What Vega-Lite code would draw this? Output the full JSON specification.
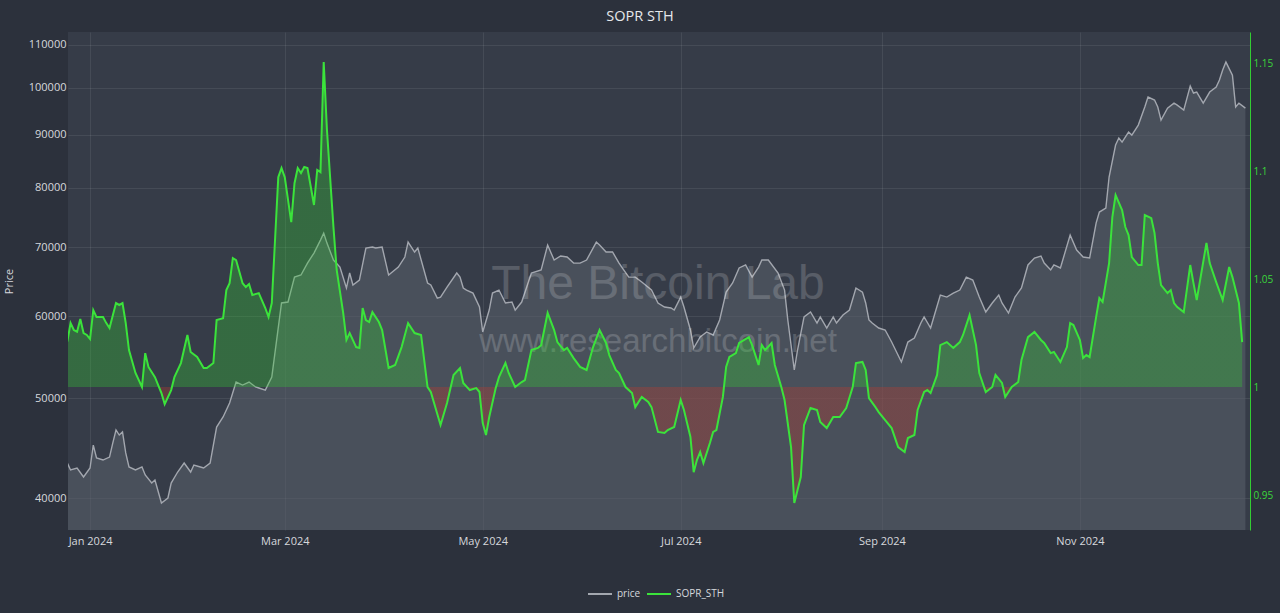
{
  "$schema": "https://vega.github.io/schema/vega-lite/v6.json",
  "autosize": {"type": "none"},
  "width": 1182,
  "height": 498,
  "padding": {"left": 68, "top": 32, "right": 30, "bottom": 83},
  "background": "#2c313c",
  "title": {"text": "SOPR STH", "fontSize": 14.5, "fontWeight": "normal", "color": "#e6e8eb", "font": "Open Sans", "anchor": "middle", "dx": -19, "offset": 8},
  "datasets": {
    "price": [
      {"date": "2023-12-25", "price": 43250}, {"date": "2023-12-26", "price": 42580}, {"date": "2023-12-28", "price": 42770}, {"date": "2023-12-30", "price": 41920},
      {"date": "2024-01-01", "price": 42770}, {"date": "2024-01-02", "price": 45020}, {"date": "2024-01-03", "price": 43740}, {"date": "2024-01-05", "price": 43540},
      {"date": "2024-01-07", "price": 43830}, {"date": "2024-01-08", "price": 45220}, {"date": "2024-01-09", "price": 46560}, {"date": "2024-01-10", "price": 46040},
      {"date": "2024-01-11", "price": 46350}, {"date": "2024-01-12", "price": 44230}, {"date": "2024-01-13", "price": 42870}, {"date": "2024-01-15", "price": 42580},
      {"date": "2024-01-17", "price": 42870}, {"date": "2024-01-18", "price": 42110}, {"date": "2024-01-20", "price": 41360}, {"date": "2024-01-21", "price": 41640},
      {"date": "2024-01-23", "price": 39560}, {"date": "2024-01-25", "price": 40000}, {"date": "2024-01-26", "price": 41360}, {"date": "2024-01-28", "price": 42390},
      {"date": "2024-01-30", "price": 43250}, {"date": "2024-02-01", "price": 42390}, {"date": "2024-02-02", "price": 43060}, {"date": "2024-02-04", "price": 42870},
      {"date": "2024-02-05", "price": 42770}, {"date": "2024-02-07", "price": 43250}, {"date": "2024-02-09", "price": 46870}, {"date": "2024-02-11", "price": 47930},
      {"date": "2024-02-13", "price": 49450}, {"date": "2024-02-15", "price": 51820}, {"date": "2024-02-17", "price": 51470}, {"date": "2024-02-19", "price": 51820},
      {"date": "2024-02-21", "price": 51250}, {"date": "2024-02-22", "price": 51130}, {"date": "2024-02-24", "price": 50900}, {"date": "2024-02-26", "price": 52400},
      {"date": "2024-02-29", "price": 61820}, {"date": "2024-03-02", "price": 61950}, {"date": "2024-03-04", "price": 65500}, {"date": "2024-03-06", "price": 65800},
      {"date": "2024-03-08", "price": 67580}, {"date": "2024-03-10", "price": 69110}, {"date": "2024-03-12", "price": 71140}, {"date": "2024-03-13", "price": 72260},
      {"date": "2024-03-14", "price": 70660}, {"date": "2024-03-16", "price": 68040}, {"date": "2024-03-18", "price": 66980}, {"date": "2024-03-20", "price": 63920},
      {"date": "2024-03-21", "price": 66100}, {"date": "2024-03-22", "price": 64350}, {"date": "2024-03-24", "price": 65070}, {"date": "2024-03-26", "price": 69890},
      {"date": "2024-03-28", "price": 70050}, {"date": "2024-03-29", "price": 69890}, {"date": "2024-03-31", "price": 70050}, {"date": "2024-04-02", "price": 65800},
      {"date": "2024-04-05", "price": 66980}, {"date": "2024-04-07", "price": 68500}, {"date": "2024-04-08", "price": 70820}, {"date": "2024-04-10", "price": 69270},
      {"date": "2024-04-11", "price": 69890}, {"date": "2024-04-14", "price": 64640}, {"date": "2024-04-15", "price": 64350}, {"date": "2024-04-17", "price": 62500},
      {"date": "2024-04-18", "price": 62640}, {"date": "2024-04-20", "price": 64060}, {"date": "2024-04-23", "price": 66100}, {"date": "2024-04-24", "price": 65500},
      {"date": "2024-04-25", "price": 63920}, {"date": "2024-04-26", "price": 63630}, {"date": "2024-04-28", "price": 63200}, {"date": "2024-04-30", "price": 61260},
      {"date": "2024-05-01", "price": 57940}, {"date": "2024-05-03", "price": 60850}, {"date": "2024-05-04", "price": 63200}, {"date": "2024-05-06", "price": 63630},
      {"date": "2024-05-08", "price": 61820}, {"date": "2024-05-10", "price": 61950}, {"date": "2024-05-11", "price": 60850}, {"date": "2024-05-13", "price": 61950},
      {"date": "2024-05-16", "price": 66100}, {"date": "2024-05-19", "price": 66550}, {"date": "2024-05-21", "price": 70350}, {"date": "2024-05-23", "price": 68040},
      {"date": "2024-05-25", "price": 68660}, {"date": "2024-05-27", "price": 68500}, {"date": "2024-05-29", "price": 67580}, {"date": "2024-05-31", "price": 67580},
      {"date": "2024-06-02", "price": 68040}, {"date": "2024-06-05", "price": 70820}, {"date": "2024-06-06", "price": 70350}, {"date": "2024-06-08", "price": 69270},
      {"date": "2024-06-10", "price": 69270}, {"date": "2024-06-12", "price": 67580}, {"date": "2024-06-13", "price": 66850}, {"date": "2024-06-15", "price": 65500},
      {"date": "2024-06-17", "price": 65500}, {"date": "2024-06-19", "price": 64790}, {"date": "2024-06-22", "price": 63630}, {"date": "2024-06-24", "price": 61820},
      {"date": "2024-06-26", "price": 61260}, {"date": "2024-06-28", "price": 61130}, {"date": "2024-06-29", "price": 60850}, {"date": "2024-07-01", "price": 62640},
      {"date": "2024-07-02", "price": 61260}, {"date": "2024-07-04", "price": 58200}, {"date": "2024-07-05", "price": 55910}, {"date": "2024-07-07", "price": 57300},
      {"date": "2024-07-09", "price": 57940}, {"date": "2024-07-11", "price": 57560}, {"date": "2024-07-13", "price": 59520}, {"date": "2024-07-15", "price": 63340},
      {"date": "2024-07-17", "price": 64640}, {"date": "2024-07-19", "price": 66850}, {"date": "2024-07-21", "price": 67300}, {"date": "2024-07-23", "price": 65500},
      {"date": "2024-07-25", "price": 66980}, {"date": "2024-07-26", "price": 68040}, {"date": "2024-07-28", "price": 68040}, {"date": "2024-07-31", "price": 66100},
      {"date": "2024-08-02", "price": 63630}, {"date": "2024-08-03", "price": 59520}, {"date": "2024-08-05", "price": 53230}, {"date": "2024-08-06", "price": 55660},
      {"date": "2024-08-08", "price": 59920}, {"date": "2024-08-10", "price": 60590}, {"date": "2024-08-12", "price": 59120}, {"date": "2024-08-13", "price": 59920},
      {"date": "2024-08-15", "price": 58460}, {"date": "2024-08-17", "price": 59920}, {"date": "2024-08-18", "price": 59120}, {"date": "2024-08-20", "price": 60180},
      {"date": "2024-08-22", "price": 60850}, {"date": "2024-08-24", "price": 63920}, {"date": "2024-08-26", "price": 63340}, {"date": "2024-08-27", "price": 61820},
      {"date": "2024-08-28", "price": 59520}, {"date": "2024-08-29", "price": 59120}, {"date": "2024-08-31", "price": 58460}, {"date": "2024-09-02", "price": 58200},
      {"date": "2024-09-04", "price": 56660}, {"date": "2024-09-07", "price": 54190}, {"date": "2024-09-09", "price": 56660}, {"date": "2024-09-11", "price": 57170},
      {"date": "2024-09-13", "price": 59120}, {"date": "2024-09-14", "price": 59920}, {"date": "2024-09-16", "price": 58460}, {"date": "2024-09-17", "price": 59920},
      {"date": "2024-09-19", "price": 62930}, {"date": "2024-09-21", "price": 62640}, {"date": "2024-09-23", "price": 63200}, {"date": "2024-09-25", "price": 63630},
      {"date": "2024-09-27", "price": 65500}, {"date": "2024-09-29", "price": 65070}, {"date": "2024-10-01", "price": 62640}, {"date": "2024-10-03", "price": 60590},
      {"date": "2024-10-05", "price": 61820}, {"date": "2024-10-07", "price": 62930}, {"date": "2024-10-08", "price": 61820}, {"date": "2024-10-10", "price": 60450},
      {"date": "2024-10-12", "price": 62640}, {"date": "2024-10-14", "price": 63920}, {"date": "2024-10-16", "price": 67300}, {"date": "2024-10-18", "price": 68350},
      {"date": "2024-10-20", "price": 68660}, {"date": "2024-10-21", "price": 67580}, {"date": "2024-10-23", "price": 66550}, {"date": "2024-10-24", "price": 67300},
      {"date": "2024-10-26", "price": 66850}, {"date": "2024-10-27", "price": 68500}, {"date": "2024-10-29", "price": 71940}, {"date": "2024-10-31", "price": 69580},
      {"date": "2024-11-02", "price": 68500}, {"date": "2024-11-04", "price": 68350}, {"date": "2024-11-06", "price": 73890}, {"date": "2024-11-07", "price": 75730},
      {"date": "2024-11-09", "price": 76410}, {"date": "2024-11-10", "price": 81890}, {"date": "2024-11-12", "price": 87950}, {"date": "2024-11-13", "price": 89340},
      {"date": "2024-11-14", "price": 88540}, {"date": "2024-11-16", "price": 90540}, {"date": "2024-11-17", "price": 89930}, {"date": "2024-11-19", "price": 91960},
      {"date": "2024-11-21", "price": 95740}, {"date": "2024-11-22", "price": 97900}, {"date": "2024-11-24", "price": 97240}, {"date": "2024-11-25", "price": 95740},
      {"date": "2024-11-26", "price": 92980}, {"date": "2024-11-28", "price": 95510}, {"date": "2024-11-30", "price": 96580}, {"date": "2024-12-01", "price": 96150},
      {"date": "2024-12-03", "price": 95090}, {"date": "2024-12-05", "price": 100330}, {"date": "2024-12-06", "price": 98780}, {"date": "2024-12-07", "price": 99000},
      {"date": "2024-12-09", "price": 96580}, {"date": "2024-12-11", "price": 99000}, {"date": "2024-12-13", "price": 100100}, {"date": "2024-12-14", "price": 101680},
      {"date": "2024-12-15", "price": 103980}, {"date": "2024-12-16", "price": 105850}, {"date": "2024-12-18", "price": 102820}, {"date": "2024-12-19", "price": 95740},
      {"date": "2024-12-20", "price": 96580}, {"date": "2024-12-22", "price": 95510}
    ],
    "sopr": [
      {"date": "2023-12-25", "sopr": 1.021}, {"date": "2023-12-26", "sopr": 1.0296}, {"date": "2023-12-27", "sopr": 1.0264}, {"date": "2023-12-28", "sopr": 1.0256},
      {"date": "2023-12-29", "sopr": 1.0315}, {"date": "2023-12-30", "sopr": 1.025}, {"date": "2023-12-31", "sopr": 1.0241}, {"date": "2024-01-01", "sopr": 1.0222},
      {"date": "2024-01-02", "sopr": 1.0356}, {"date": "2024-01-03", "sopr": 1.0324}, {"date": "2024-01-05", "sopr": 1.0324}, {"date": "2024-01-06", "sopr": 1.0296},
      {"date": "2024-01-07", "sopr": 1.0273}, {"date": "2024-01-09", "sopr": 1.0389}, {"date": "2024-01-10", "sopr": 1.038}, {"date": "2024-01-11", "sopr": 1.0389},
      {"date": "2024-01-12", "sopr": 1.0296}, {"date": "2024-01-13", "sopr": 1.0171}, {"date": "2024-01-15", "sopr": 1.0065}, {"date": "2024-01-17", "sopr": 1.0},
      {"date": "2024-01-18", "sopr": 1.0157}, {"date": "2024-01-19", "sopr": 1.0093}, {"date": "2024-01-21", "sopr": 1.0046}, {"date": "2024-01-23", "sopr": 0.9972},
      {"date": "2024-01-24", "sopr": 0.9921}, {"date": "2024-01-26", "sopr": 0.9986}, {"date": "2024-01-27", "sopr": 1.0046}, {"date": "2024-01-29", "sopr": 1.0111},
      {"date": "2024-01-31", "sopr": 1.0241}, {"date": "2024-02-01", "sopr": 1.0162}, {"date": "2024-02-03", "sopr": 1.0139}, {"date": "2024-02-05", "sopr": 1.0088},
      {"date": "2024-02-06", "sopr": 1.0088}, {"date": "2024-02-08", "sopr": 1.0111}, {"date": "2024-02-09", "sopr": 1.031}, {"date": "2024-02-11", "sopr": 1.0319},
      {"date": "2024-02-12", "sopr": 1.0449}, {"date": "2024-02-13", "sopr": 1.0481}, {"date": "2024-02-14", "sopr": 1.0597}, {"date": "2024-02-15", "sopr": 1.0588},
      {"date": "2024-02-17", "sopr": 1.0481}, {"date": "2024-02-18", "sopr": 1.0463}, {"date": "2024-02-19", "sopr": 1.0477}, {"date": "2024-02-20", "sopr": 1.0426},
      {"date": "2024-02-22", "sopr": 1.0435}, {"date": "2024-02-24", "sopr": 1.0366}, {"date": "2024-02-25", "sopr": 1.0324}, {"date": "2024-02-26", "sopr": 1.0389},
      {"date": "2024-02-28", "sopr": 1.0972}, {"date": "2024-02-29", "sopr": 1.1014}, {"date": "2024-03-01", "sopr": 1.0972}, {"date": "2024-03-03", "sopr": 1.0764},
      {"date": "2024-03-04", "sopr": 1.0944}, {"date": "2024-03-05", "sopr": 1.1014}, {"date": "2024-03-06", "sopr": 1.0991}, {"date": "2024-03-07", "sopr": 1.1019},
      {"date": "2024-03-08", "sopr": 1.1014}, {"date": "2024-03-10", "sopr": 1.0843}, {"date": "2024-03-11", "sopr": 1.1005}, {"date": "2024-03-12", "sopr": 1.0995},
      {"date": "2024-03-13", "sopr": 1.1505}, {"date": "2024-03-14", "sopr": 1.119}, {"date": "2024-03-16", "sopr": 1.0741}, {"date": "2024-03-17", "sopr": 1.0542},
      {"date": "2024-03-19", "sopr": 1.0343}, {"date": "2024-03-20", "sopr": 1.0218}, {"date": "2024-03-21", "sopr": 1.025}, {"date": "2024-03-23", "sopr": 1.0185},
      {"date": "2024-03-24", "sopr": 1.0181}, {"date": "2024-03-25", "sopr": 1.0366}, {"date": "2024-03-26", "sopr": 1.031}, {"date": "2024-03-27", "sopr": 1.0301},
      {"date": "2024-03-28", "sopr": 1.0347}, {"date": "2024-03-30", "sopr": 1.0301}, {"date": "2024-03-31", "sopr": 1.0264}, {"date": "2024-04-02", "sopr": 1.0088},
      {"date": "2024-04-04", "sopr": 1.0102}, {"date": "2024-04-06", "sopr": 1.0185}, {"date": "2024-04-08", "sopr": 1.0296}, {"date": "2024-04-10", "sopr": 1.025},
      {"date": "2024-04-12", "sopr": 1.0241}, {"date": "2024-04-14", "sopr": 1.0}, {"date": "2024-04-15", "sopr": 0.9977}, {"date": "2024-04-18", "sopr": 0.9824},
      {"date": "2024-04-20", "sopr": 0.9926}, {"date": "2024-04-22", "sopr": 1.0056}, {"date": "2024-04-24", "sopr": 1.0088}, {"date": "2024-04-25", "sopr": 1.0019},
      {"date": "2024-04-27", "sopr": 0.9986}, {"date": "2024-04-29", "sopr": 0.9995}, {"date": "2024-04-30", "sopr": 0.9977}, {"date": "2024-05-01", "sopr": 0.9833},
      {"date": "2024-05-02", "sopr": 0.9778}, {"date": "2024-05-03", "sopr": 0.9861}, {"date": "2024-05-05", "sopr": 0.9995}, {"date": "2024-05-06", "sopr": 1.0046},
      {"date": "2024-05-08", "sopr": 1.0111}, {"date": "2024-05-09", "sopr": 1.0065}, {"date": "2024-05-11", "sopr": 1.0}, {"date": "2024-05-13", "sopr": 1.0023},
      {"date": "2024-05-14", "sopr": 1.0032}, {"date": "2024-05-16", "sopr": 1.0171}, {"date": "2024-05-18", "sopr": 1.0181}, {"date": "2024-05-19", "sopr": 1.0194},
      {"date": "2024-05-21", "sopr": 1.0343}, {"date": "2024-05-23", "sopr": 1.0264}, {"date": "2024-05-24", "sopr": 1.0208}, {"date": "2024-05-26", "sopr": 1.0171},
      {"date": "2024-05-27", "sopr": 1.0181}, {"date": "2024-05-29", "sopr": 1.0134}, {"date": "2024-05-31", "sopr": 1.0093}, {"date": "2024-06-02", "sopr": 1.0079},
      {"date": "2024-06-04", "sopr": 1.0185}, {"date": "2024-06-06", "sopr": 1.0264}, {"date": "2024-06-08", "sopr": 1.0204}, {"date": "2024-06-09", "sopr": 1.0148},
      {"date": "2024-06-11", "sopr": 1.0079}, {"date": "2024-06-12", "sopr": 1.0065}, {"date": "2024-06-14", "sopr": 1.0}, {"date": "2024-06-16", "sopr": 0.9972},
      {"date": "2024-06-17", "sopr": 0.9907}, {"date": "2024-06-19", "sopr": 0.9954}, {"date": "2024-06-21", "sopr": 0.9931}, {"date": "2024-06-22", "sopr": 0.9907},
      {"date": "2024-06-24", "sopr": 0.9792}, {"date": "2024-06-26", "sopr": 0.9787}, {"date": "2024-06-27", "sopr": 0.9801}, {"date": "2024-06-29", "sopr": 0.9815},
      {"date": "2024-07-01", "sopr": 0.994}, {"date": "2024-07-02", "sopr": 0.9894}, {"date": "2024-07-04", "sopr": 0.9769}, {"date": "2024-07-05", "sopr": 0.9606},
      {"date": "2024-07-06", "sopr": 0.9662}, {"date": "2024-07-07", "sopr": 0.9699}, {"date": "2024-07-08", "sopr": 0.9648}, {"date": "2024-07-10", "sopr": 0.9741},
      {"date": "2024-07-11", "sopr": 0.9792}, {"date": "2024-07-12", "sopr": 0.9801}, {"date": "2024-07-14", "sopr": 0.9954}, {"date": "2024-07-15", "sopr": 1.0093},
      {"date": "2024-07-16", "sopr": 1.0139}, {"date": "2024-07-18", "sopr": 1.0157}, {"date": "2024-07-19", "sopr": 1.0204}, {"date": "2024-07-22", "sopr": 1.0231},
      {"date": "2024-07-23", "sopr": 1.0194}, {"date": "2024-07-25", "sopr": 1.0102}, {"date": "2024-07-26", "sopr": 1.0194}, {"date": "2024-07-27", "sopr": 1.0171},
      {"date": "2024-07-29", "sopr": 1.0204}, {"date": "2024-07-30", "sopr": 1.0102}, {"date": "2024-08-01", "sopr": 1.0}, {"date": "2024-08-02", "sopr": 0.994},
      {"date": "2024-08-04", "sopr": 0.9722}, {"date": "2024-08-05", "sopr": 0.9463}, {"date": "2024-08-07", "sopr": 0.9583}, {"date": "2024-08-08", "sopr": 0.9824},
      {"date": "2024-08-10", "sopr": 0.9903}, {"date": "2024-08-12", "sopr": 0.9894}, {"date": "2024-08-13", "sopr": 0.9838}, {"date": "2024-08-15", "sopr": 0.981},
      {"date": "2024-08-17", "sopr": 0.9861}, {"date": "2024-08-19", "sopr": 0.9861}, {"date": "2024-08-21", "sopr": 0.9903}, {"date": "2024-08-23", "sopr": 1.0},
      {"date": "2024-08-24", "sopr": 1.0111}, {"date": "2024-08-26", "sopr": 1.0116}, {"date": "2024-08-27", "sopr": 1.0079}, {"date": "2024-08-28", "sopr": 0.9949},
      {"date": "2024-08-30", "sopr": 0.9907}, {"date": "2024-08-31", "sopr": 0.9884}, {"date": "2024-09-02", "sopr": 0.9847}, {"date": "2024-09-04", "sopr": 0.981},
      {"date": "2024-09-06", "sopr": 0.9722}, {"date": "2024-09-08", "sopr": 0.9699}, {"date": "2024-09-09", "sopr": 0.9764}, {"date": "2024-09-11", "sopr": 0.9778},
      {"date": "2024-09-12", "sopr": 0.9894}, {"date": "2024-09-14", "sopr": 0.9977}, {"date": "2024-09-15", "sopr": 0.9986}, {"date": "2024-09-16", "sopr": 0.9972},
      {"date": "2024-09-18", "sopr": 1.0056}, {"date": "2024-09-19", "sopr": 1.0194}, {"date": "2024-09-21", "sopr": 1.0208}, {"date": "2024-09-23", "sopr": 1.0181},
      {"date": "2024-09-25", "sopr": 1.0208}, {"date": "2024-09-26", "sopr": 1.0241}, {"date": "2024-09-28", "sopr": 1.0333}, {"date": "2024-09-30", "sopr": 1.0194},
      {"date": "2024-10-01", "sopr": 1.0065}, {"date": "2024-10-03", "sopr": 0.9977}, {"date": "2024-10-05", "sopr": 1.0}, {"date": "2024-10-06", "sopr": 1.0056},
      {"date": "2024-10-08", "sopr": 1.0019}, {"date": "2024-10-09", "sopr": 0.9954}, {"date": "2024-10-11", "sopr": 1.0}, {"date": "2024-10-13", "sopr": 1.0023},
      {"date": "2024-10-14", "sopr": 1.0125}, {"date": "2024-10-16", "sopr": 1.0231}, {"date": "2024-10-18", "sopr": 1.0255}, {"date": "2024-10-20", "sopr": 1.0218},
      {"date": "2024-10-21", "sopr": 1.0204}, {"date": "2024-10-23", "sopr": 1.0157}, {"date": "2024-10-24", "sopr": 1.0162}, {"date": "2024-10-26", "sopr": 1.0116},
      {"date": "2024-10-28", "sopr": 1.0185}, {"date": "2024-10-29", "sopr": 1.0296}, {"date": "2024-10-30", "sopr": 1.0287}, {"date": "2024-11-01", "sopr": 1.0218},
      {"date": "2024-11-02", "sopr": 1.0134}, {"date": "2024-11-03", "sopr": 1.0148}, {"date": "2024-11-04", "sopr": 1.0139}, {"date": "2024-11-06", "sopr": 1.0324},
      {"date": "2024-11-07", "sopr": 1.0412}, {"date": "2024-11-08", "sopr": 1.0394}, {"date": "2024-11-10", "sopr": 1.0574}, {"date": "2024-11-11", "sopr": 1.0787},
      {"date": "2024-11-12", "sopr": 1.0889}, {"date": "2024-11-14", "sopr": 1.0819}, {"date": "2024-11-15", "sopr": 1.0741}, {"date": "2024-11-16", "sopr": 1.0704},
      {"date": "2024-11-17", "sopr": 1.0602}, {"date": "2024-11-19", "sopr": 1.0565}, {"date": "2024-11-20", "sopr": 1.0565}, {"date": "2024-11-21", "sopr": 1.0796},
      {"date": "2024-11-23", "sopr": 1.0782}, {"date": "2024-11-24", "sopr": 1.0713}, {"date": "2024-11-25", "sopr": 1.0574}, {"date": "2024-11-26", "sopr": 1.0472},
      {"date": "2024-11-28", "sopr": 1.0435}, {"date": "2024-11-29", "sopr": 1.0449}, {"date": "2024-11-30", "sopr": 1.0389}, {"date": "2024-12-01", "sopr": 1.037},
      {"date": "2024-12-03", "sopr": 1.0347}, {"date": "2024-12-05", "sopr": 1.0565}, {"date": "2024-12-06", "sopr": 1.0481}, {"date": "2024-12-07", "sopr": 1.0403},
      {"date": "2024-12-10", "sopr": 1.0667}, {"date": "2024-12-11", "sopr": 1.0574}, {"date": "2024-12-13", "sopr": 1.0486}, {"date": "2024-12-15", "sopr": 1.0403},
      {"date": "2024-12-17", "sopr": 1.0556}, {"date": "2024-12-18", "sopr": 1.0509}, {"date": "2024-12-20", "sopr": 1.0389}, {"date": "2024-12-21", "sopr": 1.0208}
    ],
    "watermark": [
      {"date": "2024-06-24", "price": 64350, "label": "The Bitcoin Lab"},
      {"date": "2024-06-24", "price": 56660, "label": "www.researchbitcoin.net"}
    ]
  },
  "layer": [
    {
      "layer": [
        {
          "data": {"name": "price"},
          "mark": {"type": "area", "fill": "#5a606c", "fillOpacity": 0.55, "clip": true},
          "encoding": {
            "x": {
              "field": "date", "type": "temporal",
              "scale": {"domain": [{"year": 2023, "month": 12, "date": 25, "hours": 5}, {"year": 2024, "month": 12, "date": 23, "hours": 10}]},
              "axis": {
                "title": null, "format": "%b %Y",
                "values": [{"year": 2024, "month": 1, "date": 1}, {"year": 2024, "month": 3, "date": 1}, {"year": 2024, "month": 5, "date": 1}, {"year": 2024, "month": 7, "date": 1}, {"year": 2024, "month": 9, "date": 1}, {"year": 2024, "month": 11, "date": 1}],
                "grid": true, "gridColor": "#ffffff", "gridOpacity": 0.08, "domain": false, "ticks": false,
                "labelColor": "#d6d8dc", "labelFontSize": 11, "labelPadding": 5
              }
            },
            "y": {
              "field": "price", "type": "quantitative",
              "scale": {"type": "log", "domain": [37243, 113200], "nice": false},
              "axis": {
                "orient": "left", "title": "Price", "values": [40000, 50000, 60000, 70000, 80000, 90000, 100000, 110000], "format": "d",
                "grid": true, "gridColor": "#ffffff", "gridOpacity": 0.08, "domain": false, "ticks": false,
                "labelColor": "#d6d8dc", "labelFontSize": 11, "labelPadding": 2,
                "titleColor": "#d6d8dc", "titleFontSize": 11, "titleFontWeight": "normal", "titlePadding": 14
              }
            },
            "y2": {"datum": 37243}
          }
        },
        {
          "data": {"name": "price"},
          "mark": {"type": "line", "strokeWidth": 1.4, "clip": true},
          "encoding": {
            "x": {"field": "date", "type": "temporal"},
            "y": {"field": "price", "type": "quantitative"},
            "color": {"datum": "price", "scale": {"domain": ["price", "SOPR_STH"], "range": ["#a3a7af", "#3be33b"]}}
          }
        },
        {
          "data": {"name": "watermark"},
          "transform": [{"filter": "datum.label === 'The Bitcoin Lab'"}],
          "mark": {"type": "text", "font": "Liberation Sans", "fontSize": 48, "color": "#ffffff", "opacity": 0.17, "baseline": "middle", "align": "center"},
          "encoding": {
            "x": {"field": "date", "type": "temporal"},
            "y": {"field": "price", "type": "quantitative"},
            "text": {"field": "label"}
          }
        },
        {
          "data": {"name": "watermark"},
          "transform": [{"filter": "datum.label !== 'The Bitcoin Lab'"}],
          "mark": {"type": "text", "font": "Liberation Sans", "fontSize": 33, "color": "#ffffff", "opacity": 0.17, "baseline": "middle", "align": "center"},
          "encoding": {
            "x": {"field": "date", "type": "temporal"},
            "y": {"field": "price", "type": "quantitative"},
            "text": {"field": "label"}
          }
        }
      ]
    },
    {
      "layer": [
        {
          "data": {"name": "sopr"},
          "mark": {
            "type": "area", "fillOpacity": 0.32, "clip": true,
            "fill": {"gradient": "linear", "x1": 0, "y1": 0, "x2": 0, "y2": 1, "stops": [
              {"offset": 0, "color": "#33cc33"}, {"offset": 0.737, "color": "#33cc33"},
              {"offset": 0.737, "color": "#c0392b"}, {"offset": 1, "color": "#c0392b"}
            ]}
          },
          "encoding": {
            "x": {"field": "date", "type": "temporal"},
            "y": {
              "field": "sopr", "type": "quantitative",
              "scale": {"domain": [0.9338, 1.1644], "nice": false, "zero": false},
              "axis": {
                "orient": "right", "title": null, "values": [0.95, 1, 1.05, 1.1, 1.15], "format": "~g",
                "grid": false, "domain": true, "domainColor": "#33cc33", "domainWidth": 1, "ticks": false,
                "labelColor": "#3bd63b", "labelFontSize": 10, "labelPadding": 3
              }
            },
            "y2": {"datum": 1}
          }
        },
        {
          "data": {"name": "sopr"},
          "mark": {"type": "line", "strokeWidth": 2, "clip": true},
          "encoding": {
            "x": {"field": "date", "type": "temporal"},
            "y": {"field": "sopr", "type": "quantitative"},
            "color": {"datum": "SOPR_STH", "scale": {"domain": ["price", "SOPR_STH"], "range": ["#a3a7af", "#3be33b"]}}
          }
        },
        {
          "mark": {"type": "rule", "color": "#8fd28f", "strokeWidth": 1, "strokeDash": [4, 3], "opacity": 0.9},
          "encoding": {"y": {"datum": 1}}
        }
      ]
    }
  ],
  "resolve": {"scale": {"y": "independent"}},
  "config": {
    "font": "Open Sans",
    "view": {"fill": "#363c48", "stroke": null},
    "legend": {
      "orient": "none", "legendX": 519, "legendY": 549, "direction": "horizontal", "title": null,
      "symbolType": "stroke", "symbolSize": 576, "symbolStrokeWidth": 2,
      "labelColor": "#d6d8dc", "labelFontSize": 10, "labelOffset": 4, "columnPadding": 2, "padding": 0
    }
  }
}
